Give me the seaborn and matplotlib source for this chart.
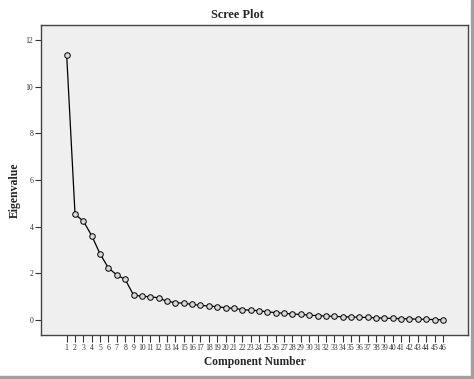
import matplotlib
matplotlib.use("Agg")
import matplotlib.pyplot as plt
import seaborn as sns
import pandas as pd
from matplotlib.patches import Rectangle

components = list(range(1, 47))
eigenvalues = [11.36, 4.53, 4.24, 3.61, 2.83, 2.23, 1.93, 1.74, 1.07, 1.02,
               1.00, 0.95, 0.80, 0.75, 0.72, 0.67, 0.63, 0.60, 0.57, 0.53,
               0.50, 0.45, 0.42, 0.40, 0.35, 0.32, 0.29, 0.26, 0.24, 0.21,
               0.19, 0.17, 0.16, 0.14, 0.13, 0.12, 0.11, 0.10, 0.08, 0.07,
               0.06, 0.05, 0.04, 0.03, 0.02, 0.01]
y_ticks = [0, 2, 4, 6, 8, 10, 12]

df = pd.DataFrame({"Component Number": components, "Eigenvalue": eigenvalues})

sns.set_style("white")
plt.rcParams['font.family'] = ['Liberation Serif', 'DejaVu Serif']

fig = plt.figure(figsize=(4.74, 3.79), dpi=100)
ax = fig.add_axes([41/474, 1-335/379, (468-41)/474, (335-25)/379])
ax.set_facecolor("#efefef")

sns.lineplot(data=df, x="Component Number", y="Eigenvalue", ax=ax,
             color="black", linewidth=0.9, marker="o", markersize=4.0,
             markerfacecolor="#d8d8d8", markeredgecolor="black",
             markeredgewidth=0.7)

ax.set_xlim(-2.07, 49)
ax.set_ylim(-0.64, 12.64)
ax.set_xticks(components)
ax.set_xticklabels([str(c) for c in components], fontsize=5.6)
ax.set_yticks(y_ticks)
ax.set_yticklabels([str(t) for t in y_ticks], fontsize=5.6)
ax.tick_params(axis="both", direction="out", length=4, width=0.8,
               colors="#333333", pad=1.5, bottom=True, left=True)
ax.tick_params(axis="x", length=5)
for s in ax.spines.values():
    s.set_color("#444444")
    s.set_linewidth(1.0)

fig.text(0.5, 1-15/379, "Scree Plot", fontsize=8.8, fontweight="bold",
         ha="center", va="center")
ax.set_xlabel("Component Number", fontsize=8.3, fontweight="bold", labelpad=3)
ax.set_ylabel("Eigenvalue", fontsize=8.5, fontweight="bold")
ax.yaxis.set_label_coords((21-41)/(468-41), 0.467)

# screenshot-like gray border at right and bottom
fig.patches.append(Rectangle((0, 0), 1, 3/379, transform=fig.transFigure,
                             color="#a0a0a0", zorder=0))
fig.patches.append(Rectangle((1-3/474, 0), 3/474, 1, transform=fig.transFigure,
                             color="#a0a0a0", zorder=0))

fig.savefig("out.png", dpi=100)
